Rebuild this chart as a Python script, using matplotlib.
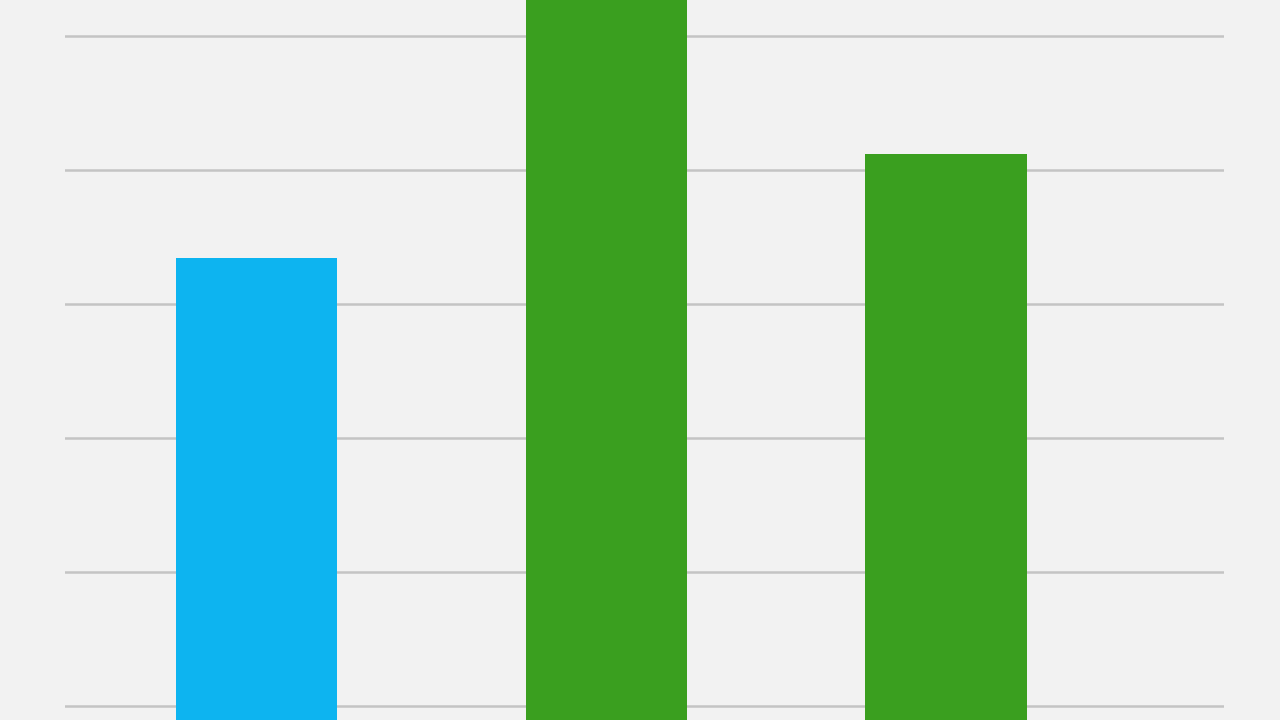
import matplotlib
matplotlib.use('Agg')
import matplotlib.pyplot as plt
import numpy as np

categories = ['A', 'B', 'C']
values = [3.34, 5.5, 4.12]
colors = ['#0db4f0', '#3a9f1f', '#3a9f1f']

fig = plt.figure(figsize=(12.8, 7.2), dpi=100)
fig.patch.set_facecolor('#f2f2f2')
ax = fig.add_axes([65 / 1280, 0, (1224 - 65) / 1280, 1])
ax.set_facecolor('#f2f2f2')

# the middle bar sits a little right of an even spacing
x = np.array([0, 1.015, 2])
bottom = -0.5
ax.bar(x, np.array(values) - bottom, bottom=bottom, width=0.467,
       color=colors, zorder=3)

for y in range(6):
    ax.axhline(y, color='#c4c4c4', linewidth=1.8, zorder=1)

ax.set_xlim(-0.554, 2.806)
ax.set_ylim(-14 / 134, 706 / 134)
ax.axis('off')

fig.savefig('out.png', dpi=100, facecolor=fig.get_facecolor())
